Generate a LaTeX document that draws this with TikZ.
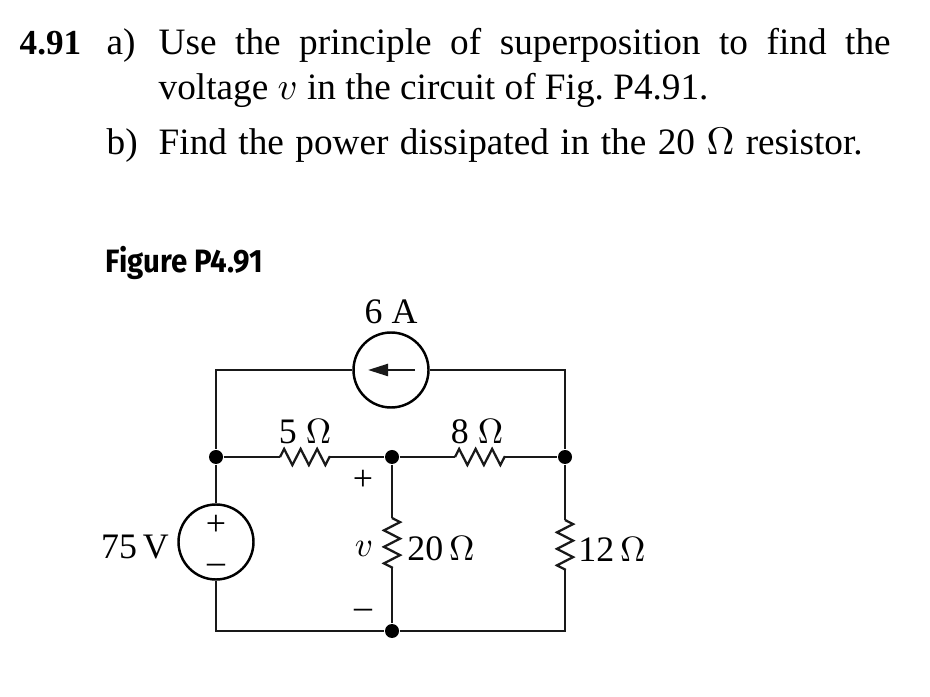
\documentclass[tikz,border=0pt]{standalone}
\usepackage{fontspec}
\setmainfont{Liberation Serif}
\newfontfamily\figfont{Fira Sans}
\usetikzlibrary{arrows.meta,decorations.pathmorphing}
\tikzset{
	wire/.style={line width=0.65pt, color=black!90},
	zig/.style={decorate, decoration={zigzag, segment length=0.165cm, amplitude=0.08cm}},
	source/.style={draw, circle, line width=0.7pt, inner sep=0, minimum size=0.75cm},
	dot/.style={circle, fill=black, inner sep=0, minimum size=0.14cm},
	txt/.style={anchor=base west, inner sep=0, font=\fontsize{10.6}{12}\selectfont\frenchspacing},
	lbl/.style={inner sep=0, font=\fontsize{10.2}{12}\selectfont},
}

\begin{document}
\begin{tikzpicture}
			%%%%% START %%%%%
			\useasboundingbox (0, 0) rectangle (9.3, 6.96);
			
			\node[txt, font=\fontsize{10}{12}\selectfont\bfseries] (num) at (0.19, 6.41) {4.91};
			\node[txt] (parta) at (1.06, 6.41) {a)};
			\node[txt] (line1) at (1.58, 6.41) {\makebox[7.32cm][s]{Use the principle of superposition to find the}};
			\node[txt] (line2) at (1.58, 5.96) {voltage $v$ in the circuit of Fig. P4.91.};
			\node[txt] (partb) at (1.06, 5.41) {b)};
			\node[txt] (line3) at (1.58, 5.41) {\makebox[7.04cm][s]{Find the power dissipated in the 20 $\Omega$ resistor.}};
			
			\node[txt, font=\fontsize{9.2}{12}\selectfont\figfont\bfseries] (figname) at (1.05, 4.23) {\scalebox{0.91}[1]{Figure P4.91}};
			
			\node[dot] (nl) at (2.16, 2.39) {};
			\node[dot] (nm) at (3.92, 2.39) {};
			\node[dot] (nr) at (5.65, 2.39) {};
			\node[dot] (nb) at (3.92, 0.65) {};
			
			\node[source] (isrc) at (3.91, 3.26) {};
			\node[source] (vsrc) at (2.16, 1.54) {};
			
			\coordinate (r5a) at (2.80, 2.39);
			\coordinate (r5b) at (3.30, 2.39);
			\coordinate (r8a) at (4.55, 2.39);
			\coordinate (r8b) at (5.05, 2.39);
			\coordinate (r20a) at (3.92, 1.78);
			\coordinate (r20b) at (3.92, 1.28);
			\coordinate (r12a) at (5.65, 1.76);
			\coordinate (r12b) at (5.65, 1.26);
			
			\draw[wire] (isrc) -| (nl);
			\draw[wire] (isrc) -| (nr);
			\draw[wire] (nl) -- (vsrc);
			\draw[wire] (vsrc) |- (nb);
			\draw[wire] (nb) -| (r12b);
			
			\draw[wire] (nl) -- (r5a);
			\draw[wire, zig] (r5a) -- (r5b);
			\draw[wire] (r5b) -- (nm);
			
			\draw[wire] (nm) -- (r8a);
			\draw[wire, zig] (r8a) -- (r8b);
			\draw[wire] (r8b) -- (nr);
			
			\draw[wire] (nm) -- (r20a);
			\draw[wire, zig] (r20a) -- (r20b);
			\draw[wire] (r20b) -- (nb);
			
			\draw[wire] (nr) -- (r12a);
			\draw[wire, zig] (r12a) -- (r12b);
			
			\coordinate (ia) at (4.15, 3.26);
			\coordinate (ib) at (3.68, 3.26);
			\draw[wire, -{Stealth[length=0.2cm, width=0.12cm, inset=0pt]}] (ia) -- (ib);
			
			\node[lbl] (plusv) at (2.16, 1.71) {+};
			\node[lbl] (minusv) at (2.16, 1.27) {--};
			\node[lbl] (plusm) at (3.63, 2.16) {+};
			\node[lbl] (vlab) at (3.64, 1.47) {$v$};
			\node[lbl] (minusm) at (3.63, 0.82) {--};
			
			\node[lbl] (lab6) at (3.91, 3.84) {6 A};
			\node[lbl] (lab5) at (3.05, 2.64) {5 $\Omega$};
			\node[lbl] (lab8) at (4.77, 2.64) {8 $\Omega$};
			\node[lbl] (lab75) at (1.35, 1.49) {75\,V};
			\node[lbl] (lab20) at (4.41, 1.47) {20\,$\Omega$};
			\node[lbl] (lab12) at (6.12, 1.47) {12\,$\Omega$};
			%%%%% END %%%%%
		\end{tikzpicture}
\end{document}
